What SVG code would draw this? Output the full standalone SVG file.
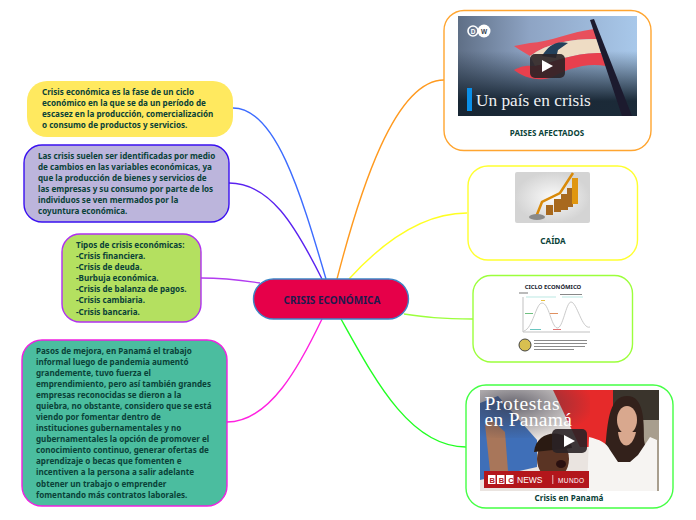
<svg xmlns="http://www.w3.org/2000/svg" width="696" height="520" viewBox="0 0 696 520">
<style>
.t{font-family:"Noto Sans","DejaVu Sans",sans-serif;font-weight:700;font-size:8.100px;fill:#0a4238}
.c{text-anchor:middle}
.n{stroke-width:1.4}
#connectors path{fill:none;stroke-width:1.4}
.s{font-family:"Liberation Serif","DejaVu Serif",serif;fill:#fff}
</style>
<defs>
<linearGradient id="sky" x1="0" y1="0" x2="1" y2="0"><stop offset="0" stop-color="#5f6f86"/><stop offset=".4" stop-color="#8ea4c4"/><stop offset="1" stop-color="#a8c8ea"/></linearGradient>
<linearGradient id="dark" x1="0" y1="0" x2="0" y2="1"><stop offset=".35" stop-color="#1b2a3a" stop-opacity="0"/><stop offset=".85" stop-color="#14222f" stop-opacity=".95"/></linearGradient>
<radialGradient id="gr"><stop offset="0" stop-color="#fafafa"/><stop offset="1" stop-color="#d4d4d4"/></radialGradient>
<radialGradient id="shade" cx=".3" cy=".3" r=".75"><stop offset="0" stop-color="#3a3a48" stop-opacity=".75"/><stop offset="1" stop-color="#3a3a48" stop-opacity="0"/></radialGradient>
</defs>
<g id="connectors">
<path d="M233 108C275 108 300 190 326 279" stroke="#3d6cff"/>
<path d="M229 183C270 183 295 225 322 279" stroke="#5a22f0"/>
<path d="M201 278C225 278 240 280 260 283" stroke="#b23cf0"/>
<path d="M227 422C270 422 300 365 322 319" stroke="#ff22e0"/>
<path d="M444 80C395 80 360 190 337 279" stroke="#ff9a1f"/>
<path d="M467 213C420 213 380 245 349 279" stroke="#ffff22"/>
<path d="M473 319C440 319 425 317 404 314" stroke="#9cff3c"/>
<path d="M466 447C410 447 375 380 341 319" stroke="#22ff22"/>
</g>
<g id="node-center">
<rect x="253.500" y="279" width="155" height="40" rx="20" fill="#e60049" stroke="#3d85c6" class="n"/>
<text x="332" y="304" class="t c" style="fill:#1f1a4d;font-size:10px">CRISIS ECONÓMICA</text>
</g>
<g id="node-definicion">
<rect x="27" y="81" width="206" height="56" rx="20" fill="#ffe95f"/>
<text class="t"><tspan x="42" y="95">Crisis económica es la fase de un ciclo</tspan><tspan x="42" y="106">económico en la que se da un período de</tspan><tspan x="42" y="117">escasez en la producción, comercialización</tspan><tspan x="42" y="128">o consumo de productos y servicios.</tspan></text>
</g>
<g id="node-identificadas">
<rect x="24" y="145" width="205" height="77" rx="18" fill="#bcb5dc" stroke="#3a10f0" class="n"/>
<text class="t"><tspan x="38" y="159">Las crisis suelen ser identificadas por medio</tspan><tspan x="38" y="170">de cambios en las variables económicas, ya</tspan><tspan x="38" y="181">que la producción de bienes y servicios de</tspan><tspan x="38" y="192">las empresas y su consumo por parte de los</tspan><tspan x="38" y="203">individuos se ven mermados por la</tspan><tspan x="38" y="214">coyuntura económica.</tspan></text>
</g>
<g id="node-tipos">
<rect x="62" y="234" width="139" height="88" rx="18" fill="#b4e060" stroke="#b030f0" class="n"/>
<text class="t"><tspan x="76" y="248">Tipos de crisis económicas:</tspan><tspan x="76" y="259">-Crisis financiera.</tspan><tspan x="76" y="270">-Crisis de deuda.</tspan><tspan x="76" y="281">-Burbuja económica.</tspan><tspan x="76" y="292">-Crisis de balanza de pagos.</tspan><tspan x="76" y="303">-Crisis cambiaria.</tspan><tspan x="76" y="315">-Crisis bancaria.</tspan></text>
</g>
<g id="node-pasos">
<rect x="22" y="340" width="205" height="166" rx="20" fill="#4bbd9f" stroke="#f020e0" class="n"/>
<text class="t"><tspan x="36" y="354">Pasos de mejora, en Panamá el trabajo</tspan><tspan x="36" y="365">informal luego de pandemia aumentó</tspan><tspan x="36" y="376">grandemente, tuvo fuerza el</tspan><tspan x="36" y="387">emprendimiento, pero así también grandes</tspan><tspan x="36" y="398">empresas reconocidas se dieron a la</tspan><tspan x="36" y="409">quiebra, no obstante, considero que se está</tspan><tspan x="36" y="420">viendo por fomentar dentro de</tspan><tspan x="36" y="431">instituciones gubernamentales y no</tspan><tspan x="36" y="442">gubernamentales la opción de promover el</tspan><tspan x="36" y="453">conocimiento continuo, generar ofertas de</tspan><tspan x="36" y="464">aprendizaje o becas que fomenten e</tspan><tspan x="36" y="475">incentiven a la persona a salir adelante</tspan><tspan x="36" y="487">obtener un trabajo o emprender</tspan><tspan x="36" y="498">fomentando más contratos laborales.</tspan></text>
</g>
<g id="node-paises">
<rect x="444" y="10.500" width="207" height="140" rx="20" fill="#fff" stroke="#ffa530" class="n"/>
<rect x="458" y="16" width="179" height="100" fill="url(#sky)"/>
<rect x="458" y="16" width="179" height="100" fill="url(#dark)"/>
<path d="M514 46L530 43C550 42 570 32 594 29L597 39C570 39 548 43 530 56L520 50Z" fill="#e8505c"/>
<path d="M530 56C548 43 570 39 597 39L601 53C575 52 555 62 535 66Z" fill="#eedcc4"/>
<path d="M514 70C525 64 530 66 535 66C555 62 575 52 601 53L606 66C585 62 565 70 550 78C535 82 522 76 514 70Z" fill="#e8404e"/>
<path d="M542 56C548 46 556 40 568 43L558 50 556 58Z" fill="#23405a"/>
<path d="M590 20L594 19 632 116 622 116Z" fill="#1c1a2e"/>
<circle cx="473" cy="31" r="5" fill="none" stroke="#fff" stroke-width="1.600"/><circle cx="484" cy="31" r="6.500" fill="#fff"/>
<text x="473" y="33.500" text-anchor="middle" style="font-family:'Liberation Sans',sans-serif;font-weight:700;font-size:6.500px;fill:#fff">D</text>
<text x="484" y="33.500" text-anchor="middle" style="font-family:'Liberation Sans',sans-serif;font-weight:700;font-size:6.500px;fill:#34404e">W</text>
<rect x="467" y="88" width="5" height="23" fill="#0a8fe8"/>
<text x="476" y="106" class="s" style="font-size:17.300px;fill:#eef0f2">Un país en crisis</text>
<rect x="530" y="54" width="35" height="24" rx="5" fill="#2a2226" opacity=".9"/>
<path d="M542 60L553 66 542 72Z" fill="#fff"/>
<text x="547" y="136" class="t c" style="font-size:8px">PAISES AFECTADOS</text>
</g>
<g id="node-caida">
<rect x="468" y="166" width="169.500" height="94" rx="20" fill="#fff" stroke="#ffff30" class="n"/>
<rect x="515" y="172" width="75" height="51" rx="2" fill="url(#gr)"/>
<path d="M546 215h7v-10h-7zM554 212h7v-13h-7zM561 210h7v-16h-7zM567 207h6v-19h-6z" fill="#a8691e"/>
<path d="M572 204h6v-26h-6z" fill="#e0960f"/>
<path d="M536 217L542 202 560 193 573 173" fill="none" stroke="#d98a0a" stroke-width="2.500"/>
<ellipse cx="537" cy="217" rx="8" ry="3" fill="#8a8a8a"/>
<text x="553" y="244" class="t c">CAÍDA</text>
</g>
<g id="node-ciclo">
<rect x="473" y="275.500" width="159.500" height="86.500" rx="18" fill="#fff" stroke="#9cff3c" class="n"/>
<text x="553" y="289" class="t c" style="fill:#1a2330;font-size:5.900px">CICLO ECONÓMICO</text>
<rect x="519" y="292" width="9" height="2" fill="#bbb"/>
<path d="M523 297V332H590" fill="none" stroke="#999" stroke-width=".6"/>
<path d="M524 331C533 328 536 303 542 303C549 303 551 326 557 328C563 329 566 302 571 302C577 302 582 330 590 327" fill="none" stroke="#bcbcbc" stroke-width=".8"/>
<path d="M526 297H556M562 297H583" stroke="#8fd8d2" stroke-width=".6"/>
<rect x="560" y="294" width="22" height="1" fill="#888"/>
<rect x="530" y="329" width="11" height="1" fill="#69c6c0"/><rect x="553" y="329" width="8" height="1" fill="#e07070"/><rect x="525" y="313" width="8" height="1" fill="#70c080"/><rect x="550" y="313" width="8" height="1" fill="#e09060"/><rect x="541" y="300" width="4" height="1" fill="#e8c040"/>
<circle cx="525" cy="345" r="6" fill="#d8c050" stroke="#444" stroke-width="1"/>
<path d="M534 340.500h53M534 343.500h53M534 346.500h51M534 349.500h40" stroke="#8a8a8a" stroke-width="1"/>
</g>
<g id="node-panama">
<rect x="466" y="385" width="207" height="123" rx="20" fill="#fff" stroke="#44ff44" class="n"/>
<rect x="480" y="390" width="179" height="101" fill="#eae4e0"/>
<path d="M480 403L498 396 537 440 537 467 480 480Z" fill="#3f6fb8"/>
<path d="M553 390H613V447H580Z" fill="#e62a2a"/>
<path d="M613 390H659V420H613Z" fill="#3a342c"/>
<rect x="613" y="420" width="46" height="71" fill="#a89e8e"/>
<path d="M485 424L492 420 505 432 508 471 490 471Z" fill="#a8765a"/>
<ellipse cx="553" cy="459" rx="16" ry="20" fill="#5a3424"/>
<path d="M534 452C536 428 570 428 572 448Z" fill="#2a1a12"/>
<ellipse cx="561" cy="464" rx="5" ry="4" fill="#2a1010"/>
<path d="M627 396C610 396 608 420 606 440L600 481H652L644 440C644 420 644 396 627 396Z" fill="#33211b"/>
<path d="M589 437C600 440 606 442 610 450L618 462H630L638 455 650 437 657 440 657 491H587Z" fill="#f6f4f2"/>
<path d="M618 432C620 450 632 450 636 432Z" fill="#d9a88e"/>
<ellipse cx="627" cy="420" rx="10" ry="14" fill="#d9a88e"/>
<rect x="480" y="390" width="110" height="48" fill="url(#shade)"/>
<rect x="552" y="429" width="35" height="24" rx="5" fill="#2a2226" opacity=".9"/>
<path d="M564 435L575 441 564 447Z" fill="#fff"/>
<text x="484.500" y="410" class="s" style="font-size:19.500px;letter-spacing:.6px">Protestas</text>
<text x="484.500" y="426" class="s" style="font-size:19.500px;letter-spacing:.3px">en Panamá</text>
<rect x="484" y="471" width="105" height="17" fill="#b3161b"/>
<rect x="488" y="475" width="7.500" height="9" fill="#fff"/><rect x="497" y="475" width="7.500" height="9" fill="#fff"/><rect x="506" y="475" width="7.500" height="9" fill="#fff"/>
<text x="489.500" y="482.500" style="font-family:'Liberation Sans',sans-serif;font-weight:700;font-size:7.500px;fill:#b3161b;letter-spacing:3.900px">BBC</text>
<text x="517" y="483" style="font-family:'Liberation Sans',sans-serif;font-size:8.500px;fill:#fff">NEWS</text>
<rect x="552.500" y="475" width=".7" height="9" fill="#fff"/>
<text x="558" y="482.500" style="font-family:'Liberation Sans',sans-serif;font-size:6.500px;fill:#fff;letter-spacing:.4px">MUNDO</text>
<text x="569" y="501" class="t c">Crisis en Panamá</text>
</g>
</svg>
